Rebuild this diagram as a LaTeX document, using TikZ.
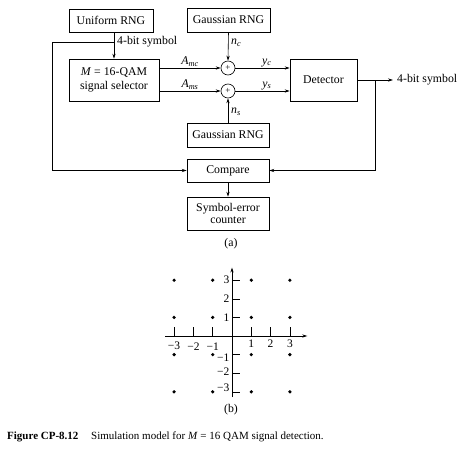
\documentclass[tikz,border=0pt]{standalone}
\usepackage{fontspec}
\setmainfont{Liberation Serif}
\usetikzlibrary{arrows.meta,calc}
\begin{document}
\begin{tikzpicture}[x=1pt,y=-1pt, font=\fontsize{11.8}{13.5}\selectfont,
  blk/.style={draw, line width=0.6pt, inner sep=0pt, align=center},
  sumnode/.style={draw, line width=0.6pt, circle, minimum size=14pt, inner sep=0pt, font=\fontsize{9}{9}\selectfont},
  arr/.style={line width=0.6pt, -{Stealth[length=5pt,width=3.2pt]}},
  ln/.style={line width=0.6pt},
  lab/.style={inner sep=1pt},
  ax/.style={font=\fontsize{11.5}{11.5}\selectfont, inner sep=0pt}]
\useasboundingbox (0,0) rectangle (467,461);
% blocks
\node[blk, minimum width=84pt, minimum height=23pt] (uni) at (111,20.5) {Uniform RNG};
\node[blk, minimum width=83pt, minimum height=24pt] (g1) at (228.5,20) {Gaussian RNG};
\node[blk, minimum width=90pt, minimum height=42pt] (qam) at (114,80) {\textit{M} = 16-QAM\\signal selector};
\node[sumnode] (s1) at (228,68) {+};
\node[sumnode] (s2) at (228,91) {+};
\node[blk, minimum width=67pt, minimum height=42pt] (det) at (323.5,80) {Detector};
\node[blk, minimum width=82pt, minimum height=24pt] (g2) at (228,135) {Gaussian RNG};
\node[blk, minimum width=82pt, minimum height=23pt] (cmp) at (228,170.5) {Compare};
\node[blk, minimum width=82pt, minimum height=33pt, font=\fontsize{11.8}{12.5}\selectfont] (sec) at (228,213.5) {Symbol-error\\counter};
\node (la) at (231,244) {(a)};
% connectors
\coordinate (j1) at (114,42);
\coordinate (l1) at (52,42);
\draw[arr] (uni.south -| qam.north) -- (qam.north);
\draw[ln] (j1) -- (l1);
\draw[arr] (l1) |- (cmp.west);
\node[lab, anchor=west] (t1) at (116,42) {4-bit symbol};
\draw[arr] (qam.east |- s1.west) -- (s1.west) node[lab, midway, above] (amc) {\textit{A}\textsubscript{\textit{mc}}};
\draw[arr] (qam.east |- s2.west) -- (s2.west) node[lab, midway, above] (ams) {\textit{A}\textsubscript{\textit{ms}}};
\draw[arr] (g1.south) -- (s1.north);
\node[lab, anchor=west] (nc) at (230,43) {\textit{n}\textsubscript{\textit{c}}};
\draw[arr] (g2.north) -- (s2.south);
\node[lab, anchor=west] (ns) at (230,112) {\textit{n}\textsubscript{\textit{s}}};
\draw[arr] (s1.east) -- (det.west |- s1.east) node[lab, pos=0.58, above] (yc) {\textit{y}\textsubscript{\textit{c}}};
\draw[arr] (s2.east) -- (det.west |- s2.east) node[lab, pos=0.58, above] (ys) {\textit{y}\textsubscript{\textit{s}}};
\coordinate (o) at (393,80);
\coordinate (j2) at (375,80);
\draw[arr] (det.east) -- (o);
\node[lab, anchor=west] (t2) at (396,80) {4-bit symbol};
\draw[arr] (j2) |- (cmp.east);
\draw[arr] (cmp.south) -- (sec.north);
% constellation
\begin{scope}[shift={(232,336)}, x=19.3pt, y=18.6pt]
  \draw[arr] (-3.47,0) -- (3.9,0);
  \draw[arr] (0,-3.28) -- (0,3.68);
  \foreach \i in {-3,-2,-1,1,2,3} {
    \draw[ln] (\i,0) -- (\i,0.48);
    \draw[ln] (0,\i) -- (0.42,\i);
  }
  \foreach \i/\t in {-3/−3,-2/−2,-1/−1} \node[ax] (xl\i) at (\i,-0.55) {\t};
  \foreach \i in {1,2,3} \node[ax] (xl\i) at (\i,-0.4) {\i};
  \foreach \i in {1,2,3} \node[ax, anchor=east] (yl\i) at (-0.12,\i) {\i};
  \node[ax, anchor=east] (ylm1) at (-0.12,-1.18) {−1};
  \node[ax, anchor=east] (ylm2) at (-0.12,-1.94) {−2};
  \node[ax, anchor=east] (ylm3) at (-0.12,-2.8) {−3};
  \foreach \a in {-3,-1,1,3} \foreach \b in {-3,-1,1,3} \fill (\a,\b) circle (1.8pt);
\end{scope}
\node (lb) at (231,410) {(b)};
% caption
\node[anchor=west, inner sep=0pt, font=\fontsize{11}{13}\selectfont\bfseries] (cap1) at (7,437) {Figure CP-8.12};
\node[anchor=west, inner sep=0pt, font=\fontsize{11}{13}\selectfont] (cap2) at (91,437) {Simulation model for \textit{M} = 16 QAM signal detection.};
\end{tikzpicture}
\end{document}
